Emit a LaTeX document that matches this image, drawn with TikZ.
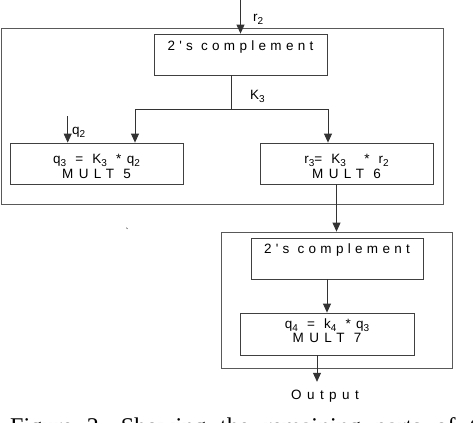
\documentclass[tikz,border=0pt]{standalone}
\usepackage{fontspec}
\usetikzlibrary{arrows.meta}
\newfontfamily\diagfont[LetterSpace=40]{Liberation Sans}
\newfontfamily\capfont{Liberation Serif}
\newcommand{\sbs}[1]{\raisebox{-3pt}{\fontsize{10}{10}\selectfont #1}}

\begin{document}
\begin{tikzpicture}[x=1pt, y=-1pt,
  every node/.style={font=\diagfont\fontsize{13.5}{15}\selectfont, inner sep=0pt},
  box/.style={draw=black!75, line width=0.8pt, minimum width=173pt, minimum height=41pt},
  compbox/.style={box, text height=16pt, text depth=25pt,
    font=\diagfont\addfontfeature{LetterSpace=32}\fontsize{13.5}{15}\selectfont},
  multbox/.style={box, align=center, text height=35pt, text depth=6pt},
  outerbox/.style={draw=black!65, line width=0.8pt},
  arr/.style={draw=black!80, line width=0.8pt, -{Triangle[length=9pt, width=8pt]}}
]
  \useasboundingbox (0,0) rectangle (474,423);
  \clip (0,0) rectangle (474,423);
  % upper block
  \node[outerbox, minimum width=442pt, minimum height=176pt] (outer1) at (222,116) {};
  \node[compbox] (comp1) at (240.5,54.5) {2's complement};
  \node[multbox] (mult5) at (96.5,163.5) {q\sbs{3} = K\sbs{3} *q\sbs{2}\\MULT 5};
  \node[multbox] (mult6) at (346.5,163.5) {r\sbs{3}= K\sbs{3} \ * r\sbs{2}\\MULT 6};
  % lower block
  \node[outerbox, minimum width=231pt, minimum height=136pt] (outer2) at (336.5,300) {};
  \node[compbox, minimum width=172pt, text height=15pt, text depth=26pt] (comp2) at (337,258.5) {2's complement};
  \node[multbox, minimum width=174pt, text height=29pt, text depth=13pt, font=\diagfont\fontsize{13.5}{14}\selectfont] (mult7) at (327,334) {q\sbs{4} = k\sbs{4} *q\sbs{3}\\MULT 7};
  \node[text height=17pt, anchor=base] (out) at (325,399) {Output};
  % labels
  \node[anchor=base west] (r2) at (253,21) {r\sbs{2}};
  \node[anchor=base west] (k3lbl) at (250,99) {K\sbs{3}};
  \node[anchor=base west] (q2lbl) at (72,134) {q\sbs{2}};
  \node[font=\capfont\fontsize{9}{9}\selectfont] (tick) at (127,231) {\symbol{96}};
  \coordinate (in) at (240.5,0);
  \coordinate (k3) at (231.7,109);
  \coordinate (q2in) at (67.7,116);
  % connectors
  \draw[arr] (in) -- (comp1.north);
  \draw[outerbox, draw=black!80] (comp1.south -| k3) -- (k3);
  \draw[arr] (k3) -| ([xshift=38.5pt]mult5.north);
  \draw[arr] (k3) -| ([xshift=-18.5pt]mult6.north);
  \draw[arr] (q2in) -- (q2in |- mult5.north);
  \draw[arr] (mult6.south -| outer2.north) -- (outer2.north);
  \draw[arr] (comp2.south -| mult7.north) -- (mult7.north);
  \draw[arr] ([xshift=-10pt]mult7.south) -- ([xshift=-10pt]mult7.south |- out.north);
  % caption, cut by the page edge
  \node[anchor=base west, font=\capfont\fontsize{24}{24}\selectfont] (caption) at (10,434)
    {\spaceskip=14pt Figure 2. Showing the remaining parts of the};
\end{tikzpicture}
\end{document}
